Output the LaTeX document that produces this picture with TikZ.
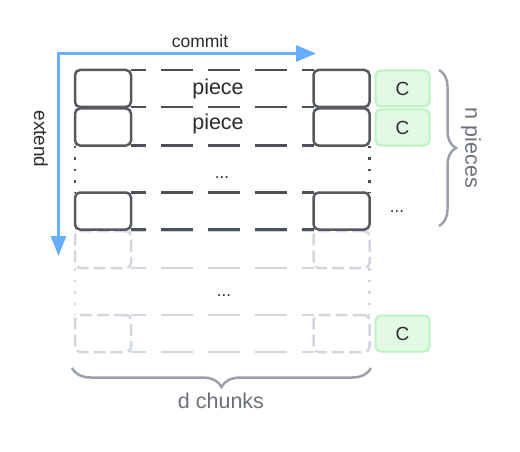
\documentclass[tikz,border=0pt]{standalone}
\usepackage{fontspec}
\setmainfont{Liberation Sans}
\usetikzlibrary{arrows.meta,decorations.pathreplacing}
\definecolor{dk}{HTML}{56595D}
\definecolor{dl}{HTML}{4C5158}
\definecolor{fd}{HTML}{D2D7DD}
\definecolor{bl}{HTML}{66AEFF}
\definecolor{gf}{HTML}{E2FAE3}
\definecolor{gd}{HTML}{BDF3C3}
\definecolor{gr}{HTML}{9CA1A9}
\definecolor{tg}{HTML}{6B7079}
\definecolor{tx}{HTML}{2B2B2B}
\begin{document}
\begin{tikzpicture}[x=1pt,y=-1pt,
  cell/.style={draw=dk,line width=2.5pt,rounded corners=5pt,minimum width=56pt,minimum height=37pt,inner sep=0pt,outer sep=0pt},
  fcell/.style={cell,draw=fd,dash pattern=on 12pt off 5pt},
  hline/.style={draw=dl,line width=2.5pt,dash pattern=on 32pt off 15pt,dash phase=17pt},
  fhline/.style={hline,draw=fd},
  vdots/.style={draw=dl,line width=2.5pt,dash pattern=on 2.5pt off 9pt},
  fvdots/.style={vdots,draw=fd},
  cbox/.style={draw=gd,fill=gf,line width=2pt,rounded corners=5pt,minimum width=54pt,minimum height=36pt,inner sep=0pt,text=tx,font=\fontsize{19}{22}\selectfont},
  lbl/.style={text=tx,inner sep=0pt,anchor=base},
  brace/.style={draw=gr,line width=2.5pt,decorate},
  bluearrow/.style={draw=bl,line width=3pt,miter limit=10}
]
\useasboundingbox (0,0) rectangle (520,452);

% faded rows
\node[fcell] (fl4) at (103,249.5) {};
\node[fcell] (fr4) at (341.5,249.5) {};
\node[fcell] (fl5) at (103,333.5) {};
\node[fcell] (fr5) at (341.5,333.5) {};
\draw[fhline] (fl4.north east) -- (fr4.north west);
\draw[fhline] (fl4.south east) -- (fr4.south west);
\draw[fhline] (fl5.north east) -- (fr5.north west);
\draw[fhline] (fl5.south east) -- (fr5.south west);
\draw[fvdots] (fl4.south west) -- (fl5.north west);
\draw[fvdots] (fr4.south east) -- (fr5.north east);
\node[lbl,font=\fontsize{17}{20}\selectfont] (fdots) at (224,296) {...};

% dark rows
\node[cell] (l1) at (103,88.5) {};
\node[cell] (r1) at (341.5,88.5) {};
\node[cell] (l2) at (103,127) {};
\node[cell] (r2) at (341.5,127) {};
\node[cell] (l3) at (103,211) {};
\node[cell] (r3) at (341.5,211) {};
\draw[hline] (l1.north east) -- (r1.north west);
\draw[hline] (l1.south east) -- (r1.south west);
\draw[hline] (l2.south east) -- (r2.south west);
\draw[hline] (l3.north east) -- (r3.north west);
\draw[hline] (l3.south east) -- (r3.south west);
\draw[vdots] (l2.south west) -- (l3.north west);
\draw[vdots] (r2.south east) -- (r3.north east);

\node[lbl,font=\fontsize{21.5}{25}\selectfont] (p1) at (218,95) {piece};
\node[lbl,font=\fontsize{21.5}{25}\selectfont] (p2) at (218,129.3) {piece};
\node[lbl,font=\fontsize{17}{20}\selectfont] (mdots) at (222,178) {...};
\node[lbl,font=\fontsize{17}{20}\selectfont] (rdots) at (397,212) {...};

% C boxes
\node[cbox] (c1) at (402.5,88.5) {C};
\node[cbox] (c2) at (402.5,127.5) {C};
\node[cbox] (c5) at (402.5,333.5) {C};

% blue arrows
\coordinate (o) at (58.5,53.5);
\coordinate (com) at (316,53.5);
\coordinate (ext) at (58.5,256);
\draw[bluearrow,{Triangle[length=20pt,width=15pt]}-{Triangle[length=20pt,width=16pt]}] (ext) -- (o) -- (com);
\node[lbl,font=\fontsize{17.5}{20}\selectfont] (commit) at (200,48) {commit};
\node[text=tx,inner sep=0pt,rotate=-90,font=\fontsize{19}{22}\selectfont] (extend) at (41,139) {extend};

% braces
\coordinate (bt) at (439,70);
\coordinate (bb) at (439,226);
\draw[brace,decoration={brace,amplitude=17pt}] (bt) -- (bb);
\node[text=tg,inner sep=0pt,rotate=-90,font=\fontsize{21.5}{25}\selectfont] (npieces) at (471,148) {n pieces};
\coordinate (dl) at (72,368);
\coordinate (dr) at (371,368);
\draw[brace,decoration={brace,amplitude=19pt}] (dr) -- (dl);
\node[lbl,text=tg,font=\fontsize{21.5}{25}\selectfont] (dchunks) at (221,408) {d chunks};
\end{tikzpicture}
\end{document}
